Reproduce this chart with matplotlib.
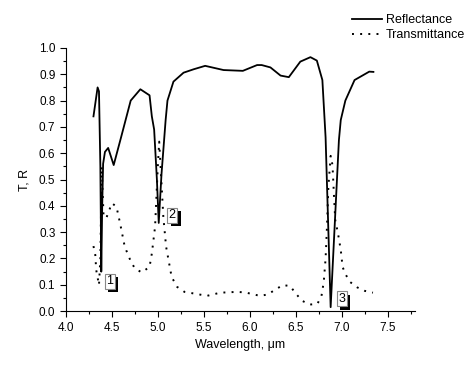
import matplotlib
matplotlib.use("Agg")
import matplotlib.pyplot as plt
import matplotlib.patheffects as pe
from matplotlib.ticker import MultipleLocator, FormatStrFormatter

plt.rcParams['font.family'] = ['Liberation Sans', 'DejaVu Sans']

# Reflectance (solid)
R_x = [4.30, 4.345, 4.36, 4.375, 4.385, 4.395, 4.405, 4.425, 4.46, 4.52, 4.60, 4.705,
       4.81, 4.91, 4.935, 4.96, 4.99, 5.01, 5.04, 5.085, 5.105, 5.17, 5.28, 5.39, 5.515,
       5.715, 5.925, 6.08, 6.13, 6.225, 6.335, 6.425, 6.55, 6.66, 6.73, 6.79, 6.825,
       6.88, 6.97, 6.99, 7.04, 7.14, 7.205, 7.30, 7.345]
R_y = [0.74, 0.85, 0.835, 0.55, 0.15, 0.40, 0.56, 0.605, 0.62, 0.555, 0.66, 0.80,
       0.843, 0.82, 0.74, 0.69, 0.50, 0.335, 0.52, 0.726, 0.80, 0.872, 0.906, 0.919, 0.932,
       0.916, 0.913, 0.935, 0.935, 0.926, 0.895, 0.889, 0.948, 0.965, 0.952, 0.878, 0.66,
       0.015, 0.65, 0.726, 0.80, 0.878, 0.891, 0.91, 0.909]

# Transmittance (dotted)
T_x = [4.30, 4.32, 4.33, 4.36, 4.375, 4.385, 4.39, 4.40, 4.41, 4.44, 4.50, 4.55, 4.59,
       4.64, 4.70, 4.75, 4.825, 4.91, 4.935, 4.97, 5.00, 5.015, 5.03, 5.06, 5.09, 5.15,
       5.21, 5.29, 5.39, 5.535, 5.68, 5.86, 5.95, 6.11, 6.195, 6.28, 6.36, 6.44, 6.50,
       6.57, 6.655, 6.735, 6.78, 6.805, 6.825, 6.84, 6.855, 6.88, 6.90, 6.915, 6.93,
       6.96, 6.99, 7.01, 7.04, 7.09, 7.17, 7.25, 7.34]
T_y = [0.247, 0.213, 0.156, 0.099, 0.20, 0.45, 0.55, 0.45, 0.36, 0.354, 0.41, 0.397, 0.333,
       0.245, 0.194, 0.162, 0.147, 0.168, 0.219, 0.32, 0.55, 0.644, 0.55, 0.358, 0.245, 0.13,
       0.092, 0.073, 0.067, 0.058, 0.07, 0.073, 0.071, 0.058, 0.063, 0.082, 0.099, 0.095, 0.067,
       0.039, 0.025, 0.027, 0.057, 0.111, 0.20, 0.32, 0.47, 0.59, 0.555, 0.447, 0.346,
       0.295, 0.232, 0.168, 0.141, 0.111, 0.09, 0.077, 0.07]

# Peak labels
label_text = ['1', '2', '3']
label_x = [4.48, 5.155, 7.0]
label_y = [0.114, 0.365, 0.046]

fig = plt.figure(figsize=(4.74, 3.66), dpi=100)
ax = fig.add_axes([0.139, 0.150, 0.737, 0.719])

ax.plot(R_x, R_y, color='black', lw=1.3, label='Reflectance')
ax.plot(T_x, T_y, color='black', lw=1.4, linestyle=(0, (1, 3.2)), label='Transmittance')

for t, x, y in zip(label_text, label_x, label_y):
    txt = ax.text(x, y, t, fontsize=9, ha='center', va='center', color='black',
                  bbox=dict(boxstyle='square,pad=0.12', fc='white', ec='#888888', lw=0.8),
                  zorder=5)
    txt.get_bbox_patch().set_path_effects([
        pe.SimplePatchShadow(offset=(2.5, -2.5), shadow_rgbFace='black', alpha=1.0),
        pe.Normal()])

ax.set_xlim(4.0, 7.8)
ax.set_ylim(0.0, 1.0)
ax.xaxis.set_major_locator(MultipleLocator(0.5))
ax.xaxis.set_minor_locator(MultipleLocator(0.25))
ax.yaxis.set_major_locator(MultipleLocator(0.1))
ax.yaxis.set_minor_locator(MultipleLocator(0.05))
ax.xaxis.set_major_formatter(FormatStrFormatter('%.1f'))
ax.yaxis.set_major_formatter(FormatStrFormatter('%.1f'))
ax.tick_params(which='major', direction='out', length=4, width=0.8, labelsize=8.5)
ax.tick_params(which='minor', direction='out', length=2.5, width=0.8)
ax.spines['top'].set_visible(False)
ax.spines['right'].set_visible(False)

ax.set_xlabel('Wavelength, \u03bcm', fontsize=9, labelpad=4)
ax.set_ylabel('T, R', fontsize=9, labelpad=6)

fig.legend(loc='upper right', bbox_to_anchor=(0.992, 0.975), frameon=False, fontsize=9,
           handlelength=2.4, handletextpad=0.3, labelspacing=0.25, borderaxespad=0)

fig.savefig('out.png', dpi=100, facecolor='white')
